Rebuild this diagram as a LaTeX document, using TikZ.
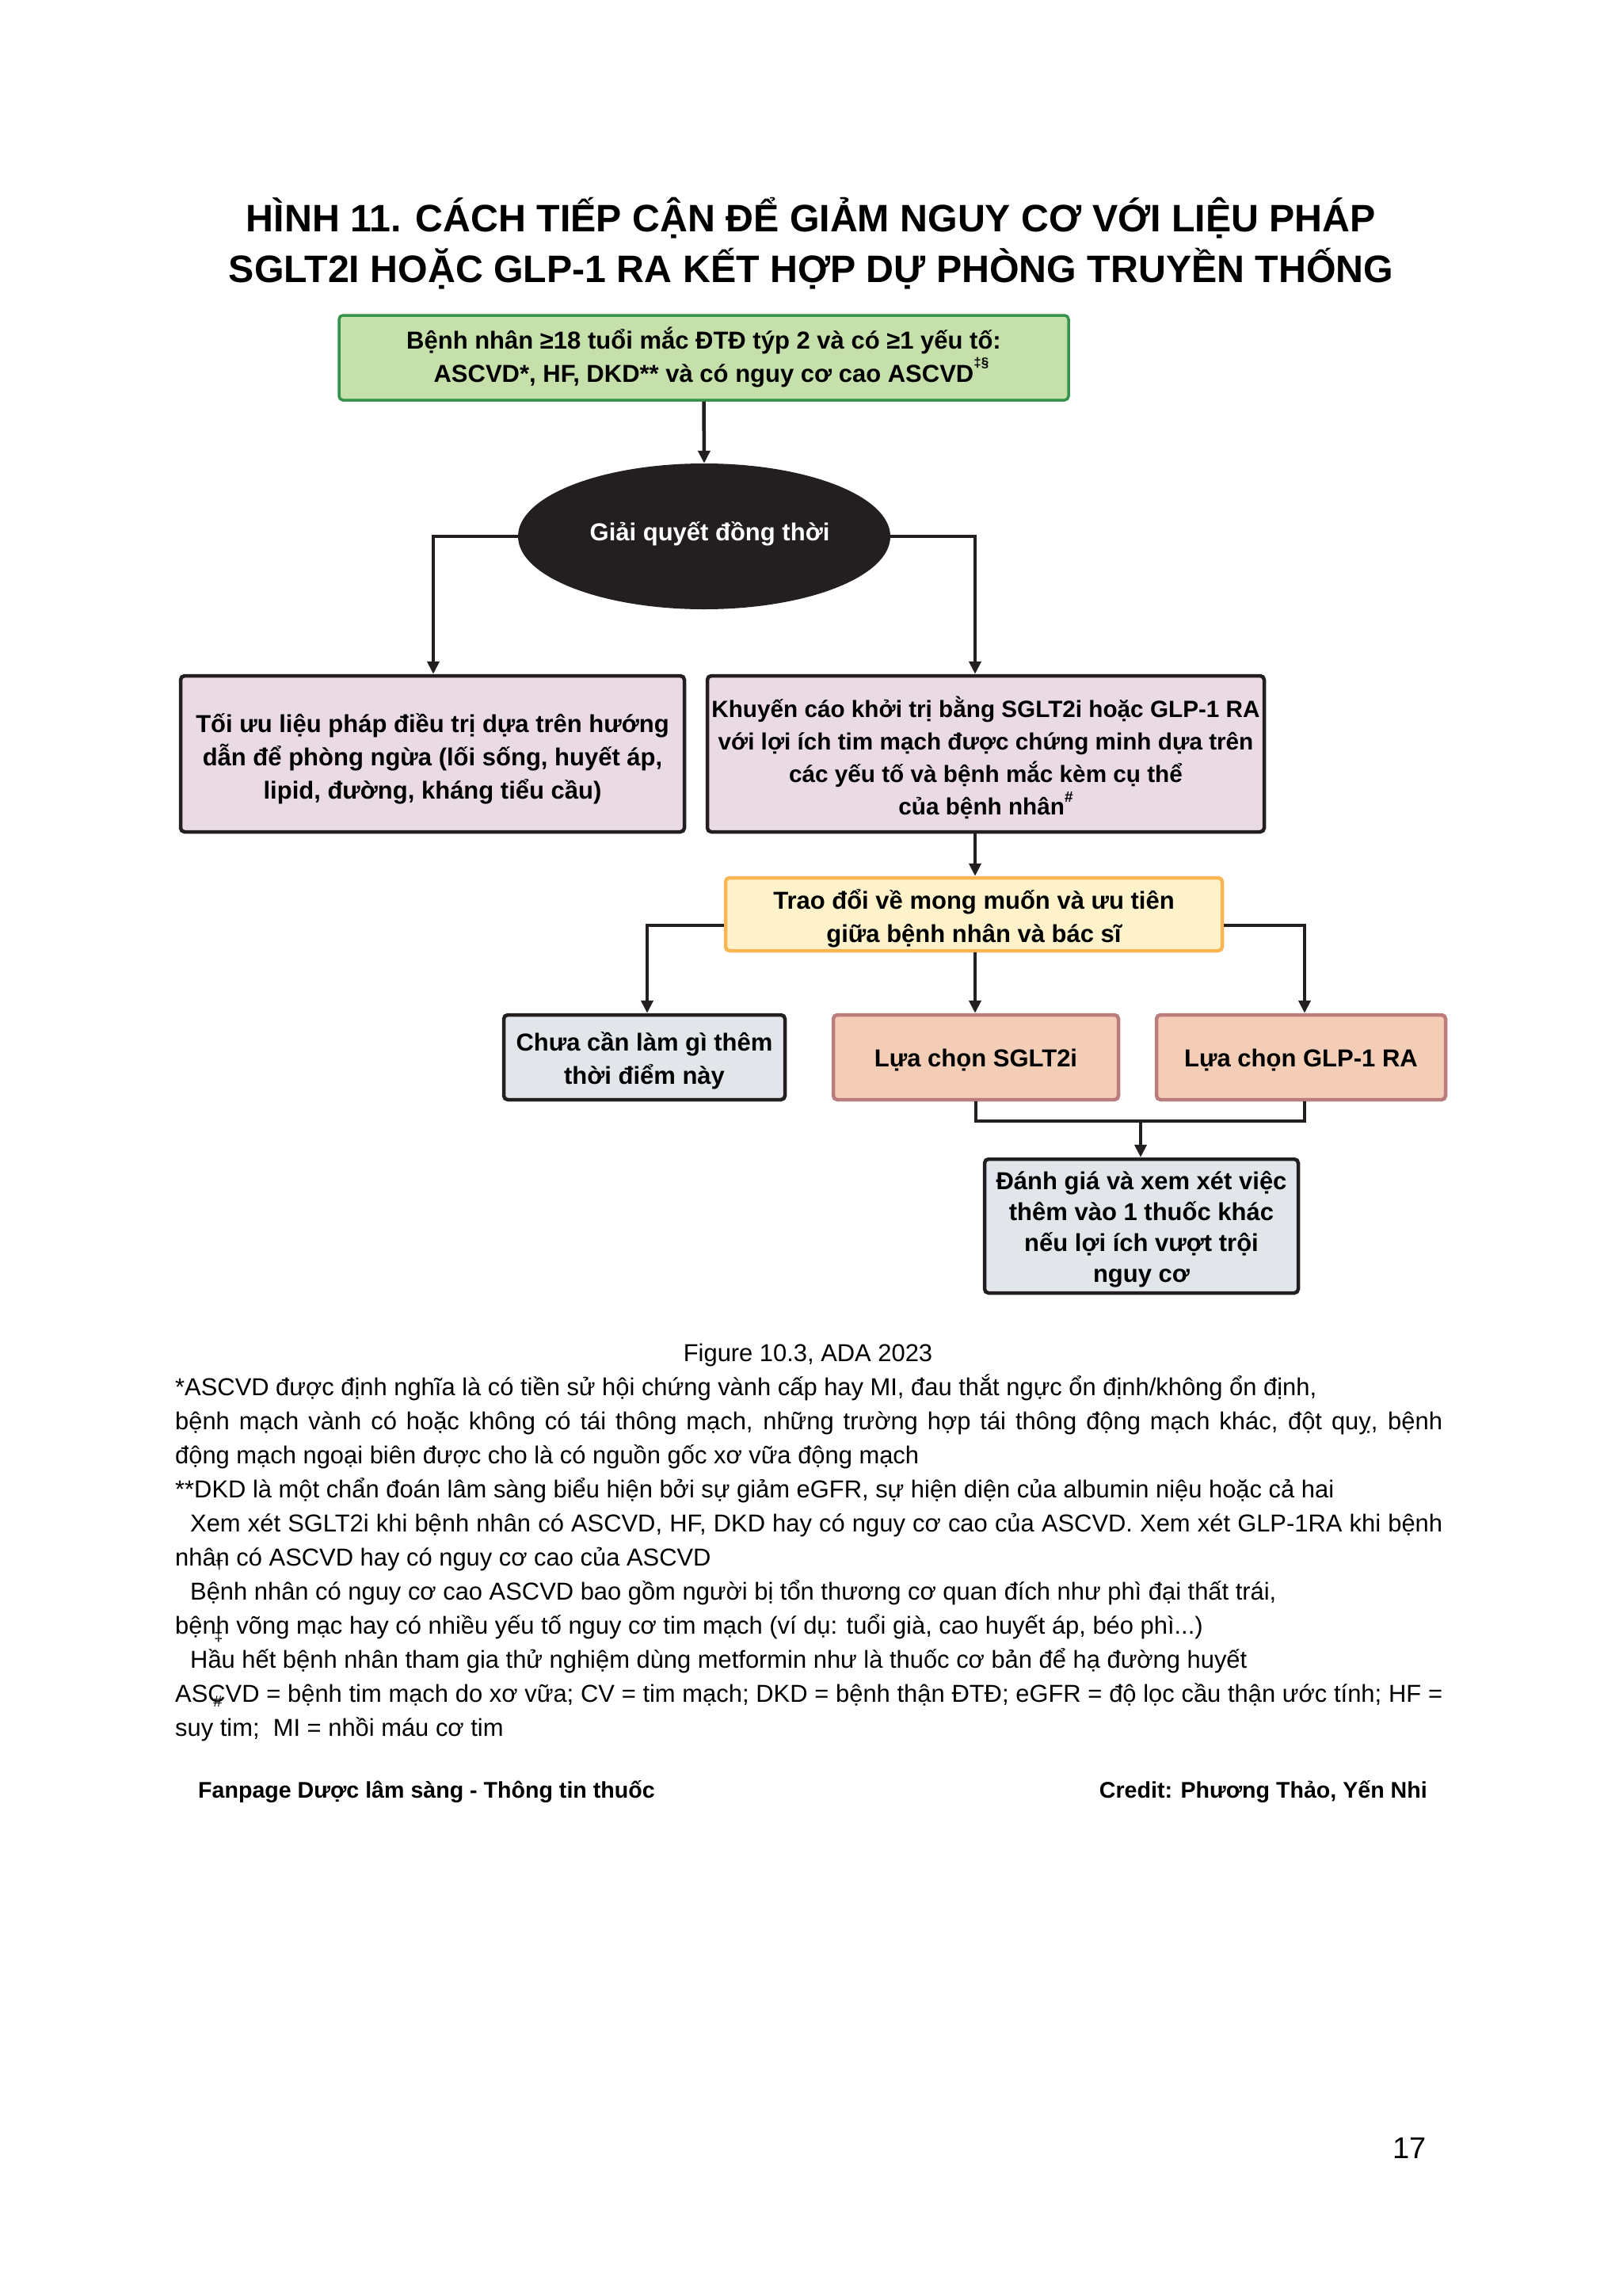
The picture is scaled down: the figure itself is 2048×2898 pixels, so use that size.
\documentclass[tikz,border=0pt]{standalone}
\usepackage{fontspec}
\setmainfont{Liberation Sans}
\usetikzlibrary{arrows.meta,shapes.geometric}
\definecolor{greenf}{HTML}{C6E0AB}
\definecolor{greenb}{HTML}{35924A}
\definecolor{pinkf}{HTML}{E9DAE4}
\definecolor{darkc}{HTML}{231F20}
\definecolor{yellowf}{HTML}{FEF2CB}
\definecolor{yellowb}{HTML}{F9B552}
\definecolor{bluef}{HTML}{E2E6EB}
\definecolor{salmonf}{HTML}{F3CDB6}
\definecolor{salmonb}{HTML}{BC7C7C}
\newcommand{\supmark}[1]{\raisebox{0.55em}{\fontsize{19}{19}\selectfont #1}}
\newcommand{\supmarkr}[1]{\rlap{\raisebox{0.6em}{\fontsize{17}{17}\selectfont #1}}}
\begin{document}
\begin{tikzpicture}[x=1pt,y=-1pt,
  box/.style={draw=darkc, rounded corners=5pt, line width=4.5pt, inner sep=0pt},
  boxt/.style={align=center, inner sep=0pt, font=\bfseries\fontsize{31}{42}\selectfont},
  conn/.style={line width=4.5pt, draw=darkc},
  arr/.style={conn, -{Triangle[length=16pt,width=15pt]}},
  fn/.style={anchor=base west, inner sep=0pt, font=\fontsize{30.9}{43}\selectfont},
  fnmark/.style={inner sep=0pt, font=\fontsize{20}{20}\selectfont},
  ttl/.style={anchor=base, inner sep=0pt, font=\bfseries\fontsize{48.3}{60}\selectfont},
  foot/.style={inner sep=0pt, font=\bfseries\fontsize{28.6}{34}\selectfont}]
\useasboundingbox (0,0) rectangle (2048,2898);
\fill[white] (0,0) rectangle (2048,2898);

% title
\node[ttl] (t1) at (1024,292) {HÌNH 11. CÁCH TIẾP CẬN ĐỂ GIẢM NGUY CƠ VỚI LIỆU PHÁP};
\node[ttl] (t2) at (1024,356) {SGLT2I HOẶC GLP-1 RA KẾT HỢP DỰ PHÒNG TRUYỀN THỐNG};

% boxes
\node[box, draw=greenb, fill=greenf, line width=3.5pt, minimum width=921pt, minimum height=107pt] (top) at (888.5,451.5) {};
\node[ellipse, fill=darkc, minimum width=470pt, minimum height=184pt, inner sep=0pt] (ell) at (889,677) {};
\node[box, fill=pinkf, minimum width=636pt, minimum height=197pt] (opt) at (546,951.5) {};
\node[box, fill=pinkf, minimum width=703pt, minimum height=197pt] (rec) at (1244.5,951.5) {};
\node[box, draw=yellowb, fill=yellowf, minimum width=627pt, minimum height=92pt] (talk) at (1229.5,1154) {};
\node[box, fill=bluef, minimum width=355pt, minimum height=107pt] (none) at (813.5,1334.5) {};
\node[box, draw=salmonb, fill=salmonf, minimum width=360pt, minimum height=107pt] (sglt) at (1232,1334.5) {};
\node[box, draw=salmonb, fill=salmonf, minimum width=365pt, minimum height=107pt] (glp) at (1642.5,1334.5) {};
\node[box, fill=bluef, minimum width=396pt, minimum height=169pt] (eval) at (1441,1547.5) {};

% box texts
\node[boxt] (topt) at ([yshift=1pt]top.center)
  {Bệnh nhân ≥18 tuổi mắc ĐTĐ týp 2 và có ≥1 yếu tố:\\ASCVD*, HF, DKD** và có nguy cơ cao ASCVD\supmarkr{‡§}};
\node[boxt, text=white] (ellt) at (896,674) {Giải quyết đồng thời};
\node[boxt] (optt) at ([yshift=-6pt]opt.center)
  {Tối ưu liệu pháp điều trị dựa trên hướng\\dẫn để phòng ngừa (lối sống, huyết áp,\\lipid, đường, kháng tiểu cầu)};
\node[boxt, font=\bfseries\fontsize{29.7}{41}\selectfont] (rect) at ([yshift=-5pt]rec.center)
  {Khuyến cáo khởi trị bằng SGLT2i hoặc GLP-1 RA\\với lợi ích tim mạch được chứng minh dựa trên\\các yếu tố và bệnh mắc kèm cụ thể\\của bệnh nhân\supmark{\#}};
\node[boxt] (talkt) at ([yshift=-5pt]talk.center)
  {Trao đổi về mong muốn và ưu tiên\\giữa bệnh nhân và bác sĩ};
\node[boxt] (nonet) at ([yshift=-4pt]none.center) {Chưa cần làm gì thêm\\thời điểm này};
\node[boxt] (sgltt) at ([yshift=-4pt]sglt.center) {Lựa chọn SGLT2i};
\node[boxt] (glpt) at ([yshift=-4pt]glp.center) {Lựa chọn GLP-1 RA};
\node[boxt, font=\bfseries\fontsize{31}{39}\selectfont] (evalt) at ([yshift=-4pt]eval.center)
  {Đánh giá và xem xét việc\\thêm vào 1 thuốc khác\\nếu lợi ích vượt trội\\nguy cơ};

% connectors
\coordinate (bl) at (547,677);
\coordinate (br) at (1231,677);
\coordinate (tl) at (817,1168);
\coordinate (tr) at (1647,1168);
\coordinate (jl) at (1232,1415);
\coordinate (jr) at (1647,1415);
\coordinate (jm) at (1440,1415);
\draw[arr] (top.south) -- (ell.north);
\draw[arr] (ell.west) -- (bl) -- (bl |- opt.north);
\draw[arr] (ell.east) -- (br) -- (br |- rec.north);
\draw[arr] (br |- rec.south) -- (br |- talk.north);
\draw[arr] (tl -| talk.west) -- (tl) -- (tl |- none.north);
\draw[arr] (tr -| talk.east) -- (tr) -- (tr |- glp.north);
\draw[arr] (br |- talk.south) -- (br |- sglt.north);
\draw[conn] (jl |- sglt.south) -- (jl) -- (jr) -- (jr |- glp.south);
\draw[arr] (jm) -- (jm |- eval.north);

% caption and notes
\node[fn, anchor=base] (cap) at (1020,1718) {Figure 10.3, ADA 2023};
\node[fn] (n1) at (221,1761) {*ASCVD được định nghĩa là có tiền sử hội chứng vành cấp hay MI, đau thắt ngực ổn định/không ổn định,};
\node[fn] (n2) at (221,1804) {\hbox to 1600pt{bệnh mạch vành có hoặc không có tái thông mạch, những trường hợp tái thông động mạch khác, đột quỵ, bệnh}};
\node[fn] (n3) at (221,1847) {động mạch ngoại biên được cho là có nguồn gốc xơ vữa động mạch};
\node[fn] (n4) at (221,1890) {**DKD là một chẩn đoán lâm sàng biểu hiện bởi sự giảm eGFR, sự hiện diện của albumin niệu hoặc cả hai};
\node[fn] (n5) at (240,1933) {\hbox to 1581pt{Xem xét SGLT2i khi bệnh nhân có ASCVD, HF, DKD hay có nguy cơ cao của ASCVD. Xem xét GLP-1RA khi bệnh}};
\node[fn] (n6) at (221,1976) {nhân có ASCVD hay có nguy cơ cao của ASCVD};
\node[fn] (n7) at (240,2019) {Bệnh nhân có nguy cơ cao ASCVD bao gồm người bị tổn thương cơ quan đích như phì đại thất trái,};
\node[fn] (n8) at (221,2062) {bệnh võng mạc hay có nhiều yếu tố nguy cơ tim mạch (ví dụ: tuổi già, cao huyết áp, béo phì...)};
\node[fn] (n9) at (240,2105) {Hầu hết bệnh nhân tham gia thử nghiệm dùng metformin như là thuốc cơ bản để hạ đường huyết};
\node[fn] (n10) at (221,2148) {\hbox to 1600pt{ASCVD = bệnh tim mạch do xơ vữa; CV = tim mạch; DKD = bệnh thận ĐTĐ; eGFR = độ lọc cầu thận ước tính; HF =}};
\node[fn] (n11) at (221,2191) {suy tim;\ \ MI = nhồi máu cơ tim};
\node[fnmark] (m1) at (277,1974) {†};
\node[fnmark] (m2) at (276,2065) {‡};
\node[fnmark] (m3) at (275,2148) {\#};

% footer
\node[foot, anchor=base west] (f1) at (250,2269) {Fanpage Dược lâm sàng - Thông tin thuốc};
\node[foot, anchor=base east] (f2) at (1802,2269) {Credit: Phương Thảo, Yến Nhi};
\node[inner sep=0pt, anchor=base west, font=\fontsize{38}{44}\selectfont] (pg) at (1758,2724) {17};
\end{tikzpicture}
\end{document}
